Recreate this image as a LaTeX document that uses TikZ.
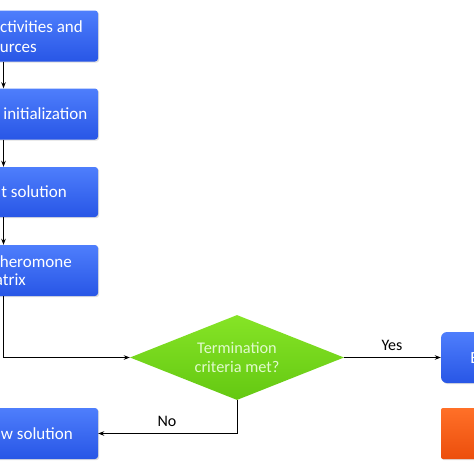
\documentclass[tikz,border=0pt]{standalone}
\usepackage{fontspec}
\setmainfont{Carlito}
\usetikzlibrary{shapes.geometric,arrows.meta,shadows}
\definecolor{bluetop}{RGB}{78,126,252}
\definecolor{bluebot}{RGB}{40,86,230}
\definecolor{greentop}{RGB}{134,228,38}
\definecolor{greenbot}{RGB}{100,200,18}
\definecolor{orangetop}{RGB}{255,112,40}
\definecolor{orangebot}{RGB}{236,78,12}
\definecolor{dtext}{RGB}{225,250,205}
\tikzset{
  x=1pt, y=1pt,
  procbox/.style={draw=none, rounded corners=3pt, top color=bluetop, bottom color=bluebot,
    minimum width=108pt, minimum height=51pt, inner sep=0pt,
    drop shadow={shadow xshift=1.2pt, shadow yshift=-1.2pt, opacity=0.25}},
  boxtext/.style={text=white, font=\fontsize{17}{20}\selectfont, inner sep=0pt, anchor=base east},
  decbox/.style={diamond, aspect=2.5, top color=greentop, bottom color=greenbot, draw=none,
    minimum width=214pt, minimum height=85pt, inner sep=0pt, align=center,
    text=dtext, font=\fontsize{16.3}{18.5}\selectfont},
  lbl/.style={font=\fontsize{16}{20}\selectfont, inner sep=0pt, anchor=base},
  arr/.style={line width=0.8pt, -{Stealth[length=6pt,width=4.5pt]}},
}
\begin{document}
\begin{tikzpicture}
\useasboundingbox (0,0) rectangle (474,-474);
\clip (0,0) rectangle (474,-474);
\fill[white] (0,0) rectangle (474,-474);
% left column boxes
\node[procbox] (b1) at (44,-36) {};
\node[procbox] (b2) at (44,-114) {};
\node[procbox, minimum height=50pt] (b3) at (44,-192) {};
\node[procbox] (b4) at (44,-270.5) {};
\node[procbox] (b5) at (44,-433.5) {};
% right boxes
\node[procbox, rounded corners=6pt, minimum width=50pt] (b6) at (466,-357.5) {};
\node[procbox, rounded corners=2pt, minimum width=50pt, top color=orangetop, bottom color=orangebot] (b7) at (466,-433.5) {};
% texts
\node[boxtext] (t1a) at (83,-32) {ctivities and};
\node[boxtext] (t1b) at (37,-52) {urces};
\node[boxtext] (t2) at (87.5,-119) {initialization};
\node[boxtext] (t3) at (67,-197) {t solution};
\node[boxtext] (t4a) at (72,-267) {heromone};
\node[boxtext] (t4b) at (26,-285) {atrix};
\node[boxtext] (t5) at (73,-439) {w solution};
\node[boxtext, anchor=base west] (t6) at (470.2,-363) {E};
% decision
\node[decbox] (dec) at (237,-357.5) {Termination\\criteria met?};
% rail
\coordinate (rail) at (3.5,0);
\draw[arr] (b1.south -| rail) -- (b2.north -| rail);
\draw[arr] (b2.south -| rail) -- (b3.north -| rail);
\draw[arr] (b3.south -| rail) -- (b4.north -| rail);
\draw[arr] (b4.south -| rail) |- (dec.west);
\draw[arr] (dec.east) -- (b6.west);
\draw[arr] (dec.south) |- (b5.east);
\node[lbl] (yes) at (392,-350) {Yes};
\node[lbl] (no) at (167,-426) {No};
\end{tikzpicture}
\end{document}
